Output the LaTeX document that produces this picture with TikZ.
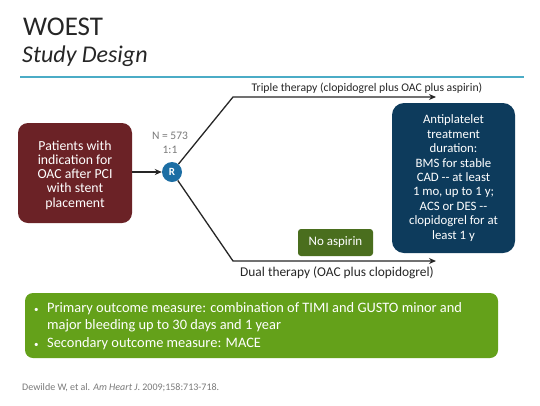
\documentclass[tikz,border=0pt]{standalone}
\usepackage{fontspec}
\setmainfont{Carlito}
\usetikzlibrary{arrows.meta}
\definecolor{boxmaroon}{HTML}{6B2226}
\definecolor{boxnavy}{HTML}{0D3B5C}
\definecolor{rblue}{HTML}{1C6EA4}
\definecolor{dgreen}{HTML}{4A6E1E}
\definecolor{lgreen}{HTML}{64A11A}
\definecolor{ruleblue}{HTML}{4BACC6}
\definecolor{txt}{HTML}{262626}
\definecolor{gtxt}{HTML}{7A7A7A}
\begin{document}
\begin{tikzpicture}[x=1pt,y=-1pt,
  box/.style={text=white,align=center,inner sep=0pt},
  arm/.style={line width=1.3pt,draw=txt},
  lbl/.style={text=txt,inner sep=0pt}]
\useasboundingbox (0,0) rectangle (540,405);
\fill[white] (0,0) rectangle (540,405);
\node[anchor=base west,inner sep=0pt,text=txt,font=\fontsize{27}{30}\selectfont] (title) at (23,35) {WOEST};
\node[anchor=base west,inner sep=0pt,text=txt,font=\fontsize{24}{26}\selectfont\itshape] (sub) at (22,62) {Study Design};
\draw[ruleblue,line width=1.2pt] (20,77) -- (524,77);
\fill[boxmaroon,rounded corners=10pt] (18,123) rectangle (132,223);
\node[box,font=\fontsize{13.8}{14.3}\selectfont] (pat) at (75,175) {Patients with\\indication for\\OAC after PCI\\with stent\\placement};
\coordinate (patr) at (132,172);
\node[circle,fill=rblue,minimum size=20pt,inner sep=0pt,text=white,font=\bfseries\fontsize{11}{12}\selectfont] (R) at (172,172) {R};
\node[align=center,text=gtxt,font=\fontsize{11.5}{14}\selectfont,anchor=base] (n) at (170,153) {N = 573\\1:1};
\draw[arm,-{Stealth[length=7pt,width=6pt]}] (patr) -- (R);
\coordinate (u1) at (233,97);
\coordinate (u2) at (436,97);
\coordinate (d1) at (233,261);
\coordinate (d2) at (436,261);
\draw[arm,-{Stealth[length=7pt,width=6pt]}] (R) -- (u1) -- (u2);
\draw[arm,-{Stealth[length=7pt,width=6pt]}] (R) -- (d1) -- (d2);
\node[lbl,anchor=base,font=\fontsize{11.7}{13}\selectfont] (tt) at (367,91) {Triple therapy (clopidogrel plus OAC plus aspirin)};
\node[lbl,anchor=base,font=\fontsize{13.4}{14}\selectfont] (dt) at (337,276.5) {Dual therapy (OAC plus clopidogrel)};
\fill[boxnavy,rounded corners=12pt] (392,103) rectangle (515,253);
\node[box,font=\fontsize{12.8}{14.4}\selectfont] (anti) at (453.5,178) {Antiplatelet\\treatment\\duration:\\BMS for stable\\CAD {-}{-} at least\\1 mo, up to 1 y;\\ACS or DES {-}{-}\\clopidogrel for at\\least 1 y};
\fill[dgreen,rounded corners=3pt] (298,229) rectangle (373,256);
\node[box,font=\fontsize{13}{14}\selectfont] (noa) at (335.5,242.5) {No aspirin};
\fill[lgreen,rounded corners=8pt] (25,293) rectangle (498,358);
\node[anchor=base west,text=white,inner sep=0pt,align=left,font=\fontsize{14.4}{17.5}\selectfont] (out) at (34,347)
 {\makebox[13pt][l]{\fontsize{9}{9}\selectfont•}Primary outcome measure: combination of TIMI and GUSTO minor and\\
  \hspace*{13pt}major bleeding up to 30 days and 1 year\\
  \makebox[13pt][l]{\fontsize{9}{9}\selectfont•}Secondary outcome measure: MACE};
\node[anchor=base west,inner sep=0pt,text=gtxt,font=\fontsize{10}{11}\selectfont] (cite) at (22,390) {Dewilde W, et al. \emph{Am Heart J}. 2009;158:713-718.};
\end{tikzpicture}
\end{document}
